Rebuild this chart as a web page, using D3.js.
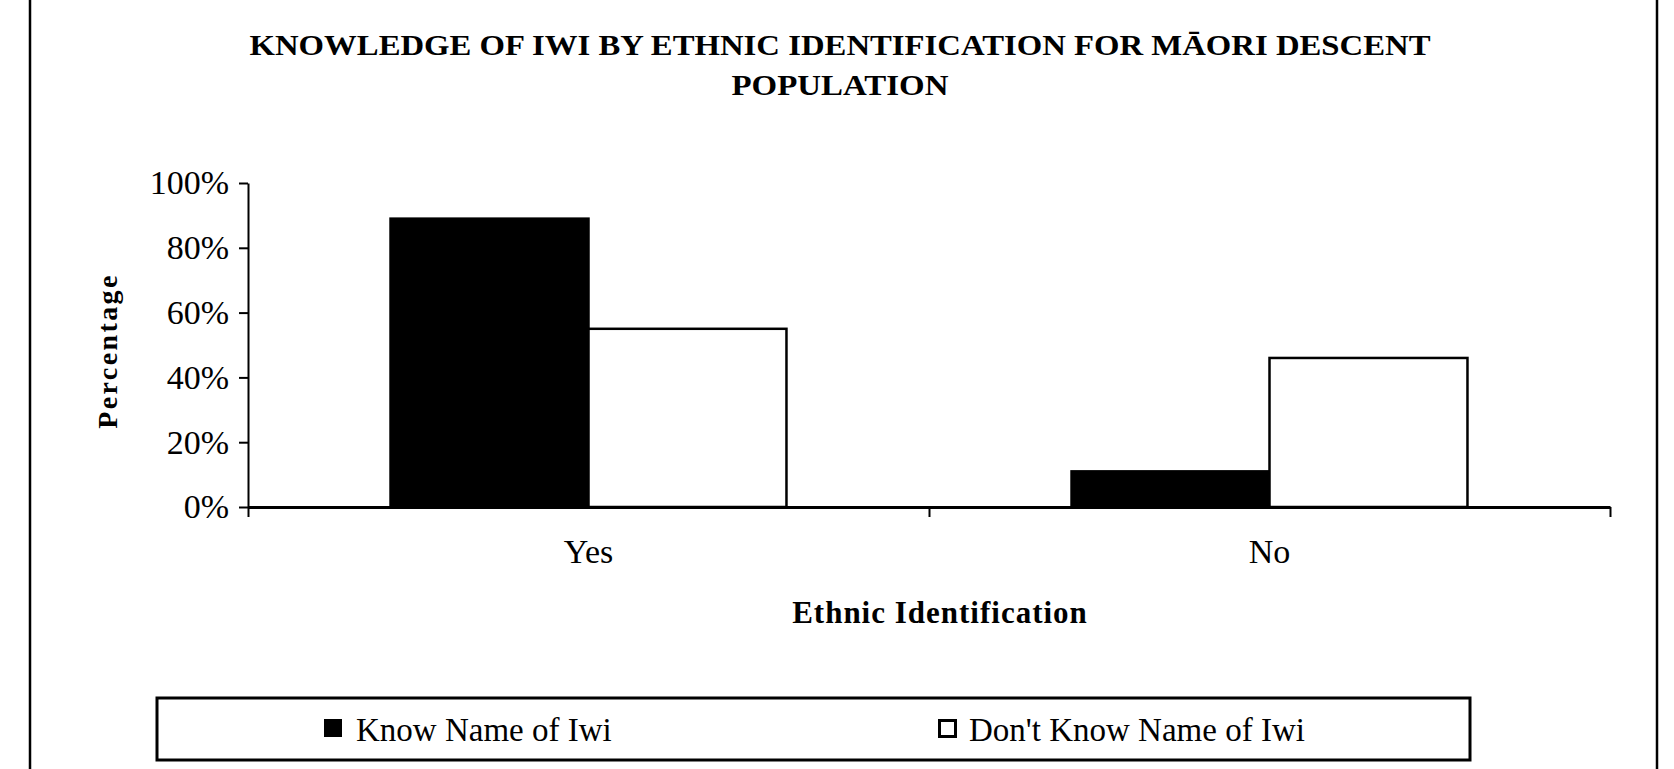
<!DOCTYPE html>
<html>
<head>
<meta charset="utf-8">
<script src="https://cdn.jsdelivr.net/npm/d3@7"></script>
<style>
  html, body { margin: 0; padding: 0; background: #fff; }
  svg { display: block; font-family: 'Liberation Serif', 'Times New Roman', serif; }
</style>
</head>
<body>
<svg id="chart"></svg>
<script>
const categories = ['Yes', 'No'];
const seriesNames = ['Know Name of Iwi', "Don't Know Name of Iwi"];
const knowValues = [0.89, 0.11];
const dontKnowValues = [0.55, 0.46];
const yTicks = [0, 0.2, 0.4, 0.6, 0.8, 1];
const titleLines = ['KNOWLEDGE OF IWI BY ETHNIC IDENTIFICATION FOR MĀORI DESCENT', 'POPULATION'];

const W = 1674, H = 769;
const M = { top: 183, left: 248, right: 64, bottom: 262 };  // plot box 248..1610, 183..507
const SERIES_FILL = ['#000', '#fff'];
const FONT = "'Liberation Serif', 'Times New Roman', serif";

const svg = d3.select('#chart').attr('width', W).attr('height', H);

// frame (only the side edges are visible in the picture)
svg.append('rect')
  .attr('x', 30).attr('y', -10).attr('width', 1627).attr('height', H + 20)
  .attr('fill', 'none').attr('stroke', '#000').attr('stroke-width', 2.5);

// title, stretched to the widths measured on the original
const titleWidths = [1181, 217];
svg.append('text')
  .attr('font-size', 30).attr('font-weight', 'bold').attr('text-anchor', 'middle')
  .selectAll('tspan').data(titleLines).join('tspan')
  .attr('x', 840).attr('y', (d, i) => 55 + i * 40)
  .attr('textLength', (d, i) => titleWidths[i]).attr('lengthAdjust', 'spacingAndGlyphs')
  .text(d => d);

const x0 = d3.scaleBand().domain(categories)
  .range([M.left, W - M.right]).paddingInner(0).paddingOuter(0);
const x1 = d3.scaleBand().domain(seriesNames)
  .range([0, x0.bandwidth()]).paddingInner(0).paddingOuter(0.72);
const y = d3.scaleLinear().domain([0, 1]).range([H - M.bottom, M.top]);

const rows = categories.map((c, i) => ({ cat: c, vals: [knowValues[i], dontKnowValues[i]] }));

// bars
svg.append('g').selectAll('g').data(rows).join('g')
  .attr('transform', d => `translate(${x0(d.cat)},0)`)
  .selectAll('rect').data(d => d.vals.map((v, j) => ({ s: seriesNames[j], v, j })))
  .join('rect')
  .attr('x', d => x1(d.s)).attr('width', x1.bandwidth())
  .attr('y', d => y(d.v)).attr('height', d => y(0) - y(d.v))
  .attr('fill', d => SERIES_FILL[d.j])
  .attr('stroke', '#000').attr('stroke-width', 2.5);

// y axis
const yAxis = svg.append('g')
  .attr('transform', `translate(${M.left},0)`)
  .call(d3.axisLeft(y).tickValues(yTicks).tickFormat(d3.format('.0%')).tickSizeInner(9).tickSizeOuter(0).tickPadding(10));
yAxis.attr('font-family', FONT).attr('font-size', 34);
yAxis.select('.domain').attr('stroke-width', 2);
yAxis.selectAll('.tick line').attr('stroke-width', 2);
yAxis.selectAll('.tick text').attr('fill', '#000');

// x axis: ticks between categories
const xb = d3.scaleLinear().domain([0, categories.length]).range([M.left, W - M.right]);
const xAxis = svg.append('g')
  .attr('transform', `translate(0,${y(0)})`)
  .call(d3.axisBottom(xb).tickValues(d3.range(categories.length + 1)).tickFormat('').tickSizeInner(10).tickSizeOuter(0));
xAxis.select('.domain').attr('stroke-width', 3);
xAxis.selectAll('.tick line').attr('stroke-width', 2);

svg.append('g').selectAll('text').data(categories).join('text')
  .attr('x', d => x0(d) + x0.bandwidth() / 2).attr('y', 563)
  .attr('text-anchor', 'middle').attr('font-size', 34)
  .text(d => d);

// axis titles
svg.append('text')
  .attr('x', 940).attr('y', 623).attr('text-anchor', 'middle')
  .attr('font-size', 31).attr('font-weight', 'bold').attr('letter-spacing', 1)
  .text('Ethnic Identification');

svg.append('text')
  .attr('transform', 'translate(117,351) rotate(-90)')
  .attr('text-anchor', 'middle')
  .attr('font-size', 28).attr('font-weight', 'bold').attr('letter-spacing', 2.4)
  .text('Percentage');

// legend
const lg = svg.append('g');
lg.append('rect')
  .attr('x', 157).attr('y', 698).attr('width', 1313).attr('height', 62)
  .attr('fill', '#fff').attr('stroke', '#000').attr('stroke-width', 3);
const legendX = [324, 938];
const items = lg.selectAll('g.item').data(seriesNames).join('g')
  .attr('class', 'item')
  .attr('transform', (d, i) => `translate(${legendX[i]},719)`);
items.append('rect')
  .attr('x', (d, i) => i ? 1.5 : 0).attr('y', (d, i) => i ? 1.5 : 0)
  .attr('width', (d, i) => i ? 16 : 18).attr('height', (d, i) => i ? 16 : 18)
  .attr('fill', (d, i) => SERIES_FILL[i]).attr('stroke', '#000').attr('stroke-width', (d, i) => i ? 3 : 0);
items.append('text')
  .attr('x', (d, i) => i ? 31 : 32).attr('y', 22)
  .attr('font-size', 33)
  .text(d => d);
</script>
</body>
</html>
